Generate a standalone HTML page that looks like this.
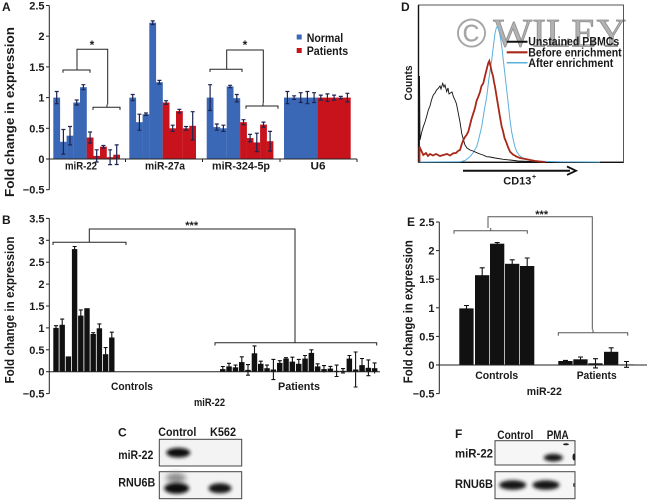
<!DOCTYPE html>
<html><head><meta charset="utf-8"><style>
html,body{margin:0;padding:0;background:#fff;}
svg{display:block;}
text{font-family:"Liberation Sans",Arial,sans-serif;fill:#1a1a1a;}
.b{font-weight:bold;}
</style></head><body>
<svg width="647" height="500" viewBox="0 0 647 500" xmlns="http://www.w3.org/2000/svg">
<defs>
<filter id="bl" x="-50%" y="-50%" width="200%" height="200%"><feGaussianBlur stdDeviation="1.8"/></filter>
<filter id="bl2" x="-50%" y="-50%" width="200%" height="200%"><feGaussianBlur stdDeviation="3"/></filter>
</defs>
<rect width="647" height="500" fill="#fff"/>

<!-- ============ PANEL A ============ -->
<text x="2" y="11" class="b" font-size="12">A</text>
<text transform="translate(14,112) rotate(-90)" text-anchor="middle" font-size="12.5" class="b" textLength="170" lengthAdjust="spacingAndGlyphs">Fold change in expression</text>
<g stroke="#222" stroke-width="1">
<line x1="49.3" y1="5.5" x2="49.3" y2="189.7"/>
<line x1="46" y1="5.5" x2="49.3" y2="5.5"/><line x1="46" y1="36.2" x2="49.3" y2="36.2"/><line x1="46" y1="66.9" x2="49.3" y2="66.9"/><line x1="46" y1="97.6" x2="49.3" y2="97.6"/><line x1="46" y1="128.3" x2="49.3" y2="128.3"/><line x1="46" y1="159" x2="49.3" y2="159"/><line x1="46" y1="189.7" x2="49.3" y2="189.7"/>
</g>
<g font-size="11" class="b" text-anchor="end">
<text x="44.5" y="9.5">2.5</text><text x="44.5" y="40.2">2</text><text x="44.5" y="70.9">1.5</text><text x="44.5" y="101.6">1</text><text x="44.5" y="132.3">0.5</text><text x="44.5" y="163">0</text><text x="44.5" y="193.7">−0.5</text>
</g>
<!-- bars A -->
<g fill="#3a68b6">
<rect x="53.3" y="97.6" width="6.8" height="61.4"/><rect x="60" y="141.8" width="6.8" height="17.2"/><rect x="66.6" y="135.7" width="6.8" height="23.3"/><rect x="73.3" y="102.5" width="6.8" height="56.5"/><rect x="80" y="87.2" width="6.8" height="71.8"/>
<rect x="129.3" y="97.6" width="6.8" height="61.4"/><rect x="136" y="122.2" width="6.8" height="36.8"/><rect x="142.6" y="114.2" width="6.8" height="44.8"/><rect x="149.3" y="22.7" width="6.8" height="136.3"/><rect x="156" y="82.2" width="6.8" height="76.8"/>
<rect x="206.7" y="97.6" width="6.8" height="61.4"/><rect x="213.4" y="127.1" width="6.8" height="31.9"/><rect x="220" y="128.3" width="6.8" height="30.7"/><rect x="226.7" y="86.5" width="6.8" height="72.5"/><rect x="233.4" y="98.2" width="6.8" height="60.8"/>
<rect x="284" y="97.6" width="33.4" height="61.4"/>
</g>
<g fill="#c8121c">
<rect x="86.7" y="137.5" width="6.8" height="21.5"/><rect x="93.3" y="155.9" width="6.8" height="3.1"/><rect x="100" y="146.7" width="6.8" height="12.3"/><rect x="106.7" y="157.2" width="6.8" height="1.8"/><rect x="113.3" y="154.7" width="6.7" height="4.3"/>
<rect x="162.7" y="102.5" width="6.8" height="56.5"/><rect x="169.3" y="128.3" width="6.8" height="30.7"/><rect x="176" y="111.1" width="6.8" height="47.9"/><rect x="182.7" y="128.3" width="6.8" height="30.7"/><rect x="189.3" y="125.8" width="6.7" height="33.2"/>
<rect x="240.1" y="122.2" width="6.8" height="36.8"/><rect x="246.7" y="138.1" width="6.8" height="20.9"/><rect x="253.4" y="142.4" width="6.8" height="16.6"/><rect x="260.1" y="124.6" width="6.8" height="34.4"/><rect x="266.7" y="141.2" width="6.7" height="17.8"/>
<rect x="317.4" y="97.6" width="33.3" height="61.4"/>
</g>
<!-- error bars A -->
<g stroke="#1c2450" stroke-width="1.2" fill="none">
<path d="M56.7 91.5V103.7M54.7 91.5h4M54.7 103.7h4"/>
<path d="M63.4 129.5V154.1M61.4 129.5h4M61.4 154.1h4"/>
<path d="M70 126.5V144.9M68 126.5h4M68 144.9h4"/>
<path d="M76.7 100V105M74.7 100h4M74.7 105h4"/>
<path d="M83.4 84.7V89.7M81.4 84.7h4M81.4 89.7h4"/>
<path d="M90.1 132V143M88.1 132h4M88.1 143h4"/>
<path d="M96.7 149.8V162M94.7 149.8h4M94.7 162h4"/>
<path d="M103.4 145.5V147.9M101.4 145.5h4M101.4 147.9h4"/>
<path d="M110.1 149.8V164.6M108.1 149.8h4M108.1 164.6h4"/>
<path d="M116.7 144.9V164.5M114.7 144.9h4M114.7 164.5h4"/>
<path d="M132.7 94.5V100.7M130.7 94.5h4M130.7 100.7h4"/>
<path d="M139.4 114.2V130.2M137.4 114.2h4M137.4 130.2h4"/>
<path d="M146 113V115.4M144 113h4M144 115.4h4"/>
<path d="M152.7 20.9V24.5M150.7 20.9h4M150.7 24.5h4"/>
<path d="M159.4 80.4V84M157.4 80.4h4M157.4 84h4"/>
<path d="M166.1 100.7V104.3M164.1 100.7h4M164.1 104.3h4"/>
<path d="M172.7 125.2V131.4M170.7 125.2h4M170.7 131.4h4"/>
<path d="M179.4 109.3V112.9M177.4 109.3h4M177.4 112.9h4"/>
<path d="M186.1 126.5V130.1M184.1 126.5h4M184.1 130.1h4"/>
<path d="M192.7 111.7V139.9M190.7 111.7h4M190.7 139.9h4"/>
<path d="M210.1 84.7V110.5M208.1 84.7h4M208.1 110.5h4"/>
<path d="M216.8 124V130.2M214.8 124h4M214.8 130.2h4"/>
<path d="M223.4 125.2V131.4M221.4 125.2h4M221.4 131.4h4"/>
<path d="M230.1 85.3V87.7M228.1 85.3h4M228.1 87.7h4"/>
<path d="M236.8 94.5V101.9M234.8 94.5h4M234.8 101.9h4"/>
<path d="M243.5 119.7V124.7M241.5 119.7h4M241.5 124.7h4"/>
<path d="M250.1 134.4V141.8M248.1 134.4h4M248.1 141.8h4"/>
<path d="M256.8 133.2V151.6M254.8 133.2h4M254.8 151.6h4"/>
<path d="M263.5 122.1V127.1M261.5 122.1h4M261.5 127.1h4"/>
<path d="M270.1 131.4V151M268.1 131.4h4M268.1 151h4"/>
<path d="M287.4 91.5V103.7M285.4 91.5h4M285.4 103.7h4"/>
<path d="M294.1 95.8V99.4M292.1 95.8h4M292.1 99.4h4"/>
<path d="M300.7 92.7V102.5M298.7 92.7h4M298.7 102.5h4"/>
<path d="M307.4 91.5V103.7M305.4 91.5h4M305.4 103.7h4"/>
<path d="M314.1 92.7V102.5M312.1 92.7h4M312.1 102.5h4"/>
<path d="M320.8 95.1V100.1M318.8 95.1h4M318.8 100.1h4"/>
<path d="M327.4 93.9V101.3M325.4 93.9h4M325.4 101.3h4"/>
<path d="M334.1 95.1V100.1M332.1 95.1h4M332.1 100.1h4"/>
<path d="M340.8 96.4V98.8M338.8 96.4h4M338.8 98.8h4"/>
<path d="M347.4 93.3V101.9M345.4 93.3h4M345.4 101.9h4"/>
</g>
<g stroke="#222" stroke-width="1" fill="none">
<line x1="49.3" y1="159" x2="357" y2="159"/>
<path d="M125.5 159v3M202.5 159v3M280 159v3M357 159v3"/>
<!-- brackets A -->
<path d="M63 72.7V70H90V72.7M77 70V67.7"/>
<path d="M93 110V107.3H120V110M107 107.3V104.5"/>
<path d="M77 67.7V49.3H107.7V104.5"/>
<path d="M210 72V69.3H242V72M226.7 69.3V67"/>
<path d="M246 108.7V106H278V108.7M263 106V103.3"/>
<path d="M226.7 67V50H263.3V103.3"/>
</g>
<text x="92" y="49" text-anchor="middle" font-size="12" class="b">*</text>
<text x="245" y="49" text-anchor="middle" font-size="12" class="b">*</text>
<g font-size="11" class="b" text-anchor="middle">
<text x="81" y="169.5" textLength="32" lengthAdjust="spacingAndGlyphs">miR-22</text>
<text x="165" y="169.5" textLength="40" lengthAdjust="spacingAndGlyphs">miR-27a</text>
<text x="241" y="169.5" textLength="58" lengthAdjust="spacingAndGlyphs">miR-324-5p</text>
<text x="318" y="169.5" textLength="15" lengthAdjust="spacingAndGlyphs">U6</text>
</g>
<rect x="296.7" y="34.5" width="5" height="5" fill="#3a68b6"/>
<rect x="296.7" y="48" width="5" height="5" fill="#c8121c"/>
<text x="306.7" y="42" font-size="12" class="b" textLength="36.5" lengthAdjust="spacingAndGlyphs">Normal</text>
<text x="306.7" y="55" font-size="12" class="b" textLength="41.5" lengthAdjust="spacingAndGlyphs">Patients</text>

<!-- ============ PANEL B ============ -->
<text x="2" y="224" class="b" font-size="12">B</text>
<text transform="translate(14,310) rotate(-90)" text-anchor="middle" font-size="12.5" class="b" textLength="147" lengthAdjust="spacingAndGlyphs">Fold change in expression</text>
<g stroke="#222" stroke-width="1">
<line x1="49.3" y1="218.4" x2="49.3" y2="393.6"/>
<line x1="46" y1="218.4" x2="49.3" y2="218.4"/><line x1="46" y1="240.3" x2="49.3" y2="240.3"/><line x1="46" y1="262.2" x2="49.3" y2="262.2"/><line x1="46" y1="284.1" x2="49.3" y2="284.1"/><line x1="46" y1="306" x2="49.3" y2="306"/><line x1="46" y1="327.9" x2="49.3" y2="327.9"/><line x1="46" y1="349.8" x2="49.3" y2="349.8"/><line x1="46" y1="371.7" x2="49.3" y2="371.7"/><line x1="46" y1="393.6" x2="49.3" y2="393.6"/>
</g>
<g font-size="11" class="b" text-anchor="end">
<text x="44.5" y="222.4">3.5</text><text x="44.5" y="244.3">3</text><text x="44.5" y="266.2">2.5</text><text x="44.5" y="288.1">2</text><text x="44.5" y="310">1.5</text><text x="44.5" y="331.9">1</text><text x="44.5" y="353.8">0.5</text><text x="44.5" y="375.7">0</text><text x="44.5" y="397.6">−0.5</text>
</g>
<g fill="#111">
<rect x="53.3" y="327.9" width="5.4" height="43.8"/><rect x="59.5" y="324.8" width="5.4" height="46.9"/><rect x="65.7" y="356.4" width="5.4" height="15.3"/><rect x="71.9" y="249.1" width="5.4" height="122.6"/><rect x="78.1" y="315.6" width="5.4" height="56.1"/><rect x="84.3" y="308.2" width="5.4" height="63.5"/><rect x="90.5" y="334" width="5.4" height="37.7"/><rect x="96.7" y="328.3" width="5.4" height="43.4"/><rect x="102.9" y="354.2" width="5.4" height="17.5"/><rect x="109.1" y="337.5" width="5.4" height="34.2"/>
<rect x="220" y="369.1" width="5.5" height="2.6"/><rect x="226.3" y="366.4" width="5.5" height="5.3"/><rect x="232.7" y="367.3" width="5.5" height="4.4"/><rect x="239" y="362.1" width="5.5" height="9.6"/><rect x="245.3" y="369.9" width="5.5" height="1.8"/><rect x="251.7" y="353.3" width="5.5" height="18.4"/><rect x="258" y="363.8" width="5.5" height="7.9"/><rect x="264.3" y="368.2" width="5.5" height="3.5"/><rect x="270.6" y="369.5" width="5.5" height="2.2"/><rect x="277" y="362.9" width="5.5" height="8.8"/><rect x="283.3" y="358.6" width="5.5" height="13.1"/><rect x="289.6" y="361.6" width="5.5" height="10.1"/><rect x="296" y="363.8" width="5.5" height="7.9"/><rect x="302.3" y="358.6" width="5.5" height="13.1"/><rect x="308.6" y="352.9" width="5.5" height="18.8"/><rect x="314.9" y="366.4" width="5.5" height="5.3"/><rect x="321.3" y="369.1" width="5.5" height="2.6"/><rect x="327.6" y="368.6" width="5.5" height="3.1"/><rect x="333.9" y="370.8" width="5.5" height="0.9"/><rect x="340.3" y="370.8" width="5.5" height="0.9"/><rect x="346.6" y="358.6" width="5.5" height="13.1"/><rect x="352.9" y="369.5" width="5.5" height="2.2"/><rect x="359.3" y="365.1" width="5.5" height="6.6"/><rect x="365.6" y="367.8" width="5.5" height="3.9"/><rect x="371.9" y="368.2" width="5.5" height="3.5"/>
</g>
<g stroke="#111" stroke-width="1.1" fill="none">
<path d="M56 325.7V330.1M54 325.7h4"/>
<path d="M62.2 319.1V330.5M60.2 319.1h4"/>
<path d="M74.6 246.5V251.7M72.6 246.5h4"/>
<path d="M80.8 309.9V321.3M78.8 309.9h4"/>
<path d="M93.2 332.7V335.3M91.2 332.7h4"/>
<path d="M99.4 323.9V332.7M97.4 323.9h4"/>
<path d="M105.6 347.6V360.8M103.6 347.6h4"/>
<path d="M111.8 332.2V342.8M109.8 332.2h4"/>
<path d="M222.8 366.5V371.7M220.8 366.5h4"/>
<path d="M229 363.3V369.5M227 363.3h4"/>
<path d="M235.5 365.1V369.5M233.5 365.1h4"/>
<path d="M241.8 356.8V367.4M239.8 356.8h4"/>
<path d="M248 364.6V375.2M246 364.6h4M246 375.2h4"/>
<path d="M254.5 345.9V360.7M252.5 345.9h4"/>
<path d="M260.8 361.2V366.4M258.8 361.2h4"/>
<path d="M267 365.1V371.3M265 365.1h4"/>
<path d="M273.4 359.4V379.6M271.4 359.4h4M271.4 379.6h4"/>
<path d="M279.8 360.7V365.1M277.8 360.7h4"/>
<path d="M286 357.7V359.5M284 357.7h4"/>
<path d="M292.4 357.2V366M290.4 357.2h4"/>
<path d="M298.8 359.4V368.2M296.8 359.4h4"/>
<path d="M305 355.5V361.7M303 355.5h4"/>
<path d="M311.4 349.8V356M309.4 349.8h4"/>
<path d="M317.6 363.8V369M315.6 363.8h4"/>
<path d="M324 365.6V372.6M322 365.6h4"/>
<path d="M330.4 366.4V370.8M328.4 366.4h4"/>
<path d="M336.6 365.1V376.5M334.6 365.1h4M334.6 376.5h4"/>
<path d="M343 368.6V373M341 368.6h4M341 373h4"/>
<path d="M349.4 355.5V361.7M347.4 355.5h4"/>
<path d="M355.6 352V387M353.6 352h4M353.6 387h4"/>
<path d="M362 358.5V371.7M360 358.5h4"/>
<path d="M368.4 359.9V375.7M366.4 359.9h4M366.4 375.7h4"/>
<path d="M374.6 362.9V373.5M372.6 362.9h4"/>
</g>
<g stroke="#222" stroke-width="1" fill="none">
<line x1="49.3" y1="371.7" x2="380" y2="371.7"/>
<path d="M53 245V242.3H126V245M89.3 242.3V239"/>
<path d="M89.3 239V229H295V339.5"/>
<path d="M215 345.5V342.7H376.7V345.5M295 342.7V339.5"/>
</g>
<text x="191.7" y="229" text-anchor="middle" font-size="11" class="b">***</text>
<g font-size="11" class="b" text-anchor="middle">
<text x="132" y="390" textLength="42" lengthAdjust="spacingAndGlyphs">Controls</text>
<text x="299" y="390" textLength="42" lengthAdjust="spacingAndGlyphs">Patients</text>
<text x="209.5" y="406" textLength="31" lengthAdjust="spacingAndGlyphs">miR-22</text>
</g>

<!-- ============ PANEL D ============ -->
<text x="401" y="11" class="b" font-size="12">D</text>
<text transform="translate(412,83) rotate(-90)" text-anchor="middle" font-size="11" class="b" textLength="35" lengthAdjust="spacingAndGlyphs">Counts</text>
<text x="471.5" y="47" text-anchor="middle" font-size="41" style="fill:#a5a5a5">©</text>
<text x="493.3" y="46.5" font-size="40" style="fill:#b2b2b2;font-family:'Liberation Serif',serif" stroke="#8e8e8e" stroke-width="0.8" textLength="133" lengthAdjust="spacingAndGlyphs">WILEY</text>
<rect x="418.5" y="5" width="205" height="157.3" fill="none" stroke="#444" stroke-width="0.9"/>
<line x1="418.5" y1="5" x2="418.5" y2="162.3" stroke="#111" stroke-width="1.4"/>
<line x1="418.5" y1="162.3" x2="623.5" y2="162.3" stroke="#111" stroke-width="1.4"/>
<polyline fill="none" stroke="#5ab0dc" stroke-width="1" points="419,162 460,161.8 465,160.5 470,156.7 473,153 476.7,146.7 479,138 481.7,126.7 484,112 486.7,96.7 489,78 491.7,60 493.5,45 495,33.3 496.3,28 497.3,26.7 498.5,29 500,35 501.7,46 503.3,60 505,75 506.7,90 508.5,106 510,120 511.5,131 513.3,140 515,147 516.7,151.7 519,155 521.7,157.3 525,159 530,160 540,161.2 560,161.8 600,162"/>
<polyline fill="none" stroke="#111" stroke-width="0.9" points="419.5,162 419.5,76 420,140 421.5,133 423.3,126.7 425,122 426.5,117 428.3,110 430,106 431.5,100 433.3,95 435,93 436.5,90 438.3,88.3 440,86 441,89 442.7,83.3 444,87 445,85 446.7,91.7 448,88 449,94 450,93.3 452,92 453.5,97 455,100 456.5,104 458.3,113.3 460,122 461.7,133.3 463.5,140 465,145 467,148 470,150 473,151 476.7,152.7 480,154 483,155 486.7,156.7 490,157 495,158 503.3,159.3 510,160 518,161 530,161.5 540,162"/>
<polyline fill="none" stroke="#a8281a" stroke-width="1.8" points="419.5,162 419.5,146.7 421,150 423.3,155 426,153 428,156 430,154 433,155.5 436,154 440,156 443.3,155 447,154 450,155.5 453.3,153.3 456,153 458,151 460,150 461.5,145 463.3,140 465,137 466.5,135 468.3,131.7 470,125 471.5,119 473.3,113.3 475,108 476.5,101 478.3,96.7 480,92 481.5,86 483.3,83.3 485,76 486,72 487.3,66.7 488.3,63 489.3,61 490.5,66 491.7,71.7 493,76 494,82 495,86.7 496.5,96 498.3,106.7 500,117 501.7,126.7 503,131 504.5,138 506.7,143.3 508,147 510,151.7 513,154.5 516.7,156.7 520,158 526.7,159.3 535,161 545,162"/>
<line x1="506.7" y1="41.7" x2="527.5" y2="41.7" stroke="#111" stroke-width="2"/>
<line x1="506.7" y1="52.3" x2="527.5" y2="52.3" stroke="#a8281a" stroke-width="2.2"/>
<line x1="506.7" y1="62.8" x2="527.5" y2="62.8" stroke="#5ab0dc" stroke-width="1.5"/>
<g font-size="11.5" class="b">
<text x="528.3" y="45.7" textLength="91" lengthAdjust="spacingAndGlyphs">Unstained PBMCs</text>
<text x="528.3" y="56.3" textLength="93.4" lengthAdjust="spacingAndGlyphs">Before enrichment</text>
<text x="528.3" y="66.8" textLength="85" lengthAdjust="spacingAndGlyphs">After enrichment</text>
</g>
<line x1="463" y1="170.7" x2="570" y2="170.7" stroke="#111" stroke-width="2"/>
<path d="M567 166.5 L576 170.7 L567 174.9" fill="none" stroke="#111" stroke-width="1.8"/>
<text x="503.3" y="184.5" font-size="11" class="b" textLength="28" lengthAdjust="spacingAndGlyphs">CD13</text>
<text x="532" y="179" font-size="7" class="b">+</text>

<!-- ============ PANEL E ============ -->
<text x="407" y="226" class="b" font-size="12">E</text>
<text transform="translate(412.5,311.7) rotate(-90)" text-anchor="middle" font-size="12.5" class="b" textLength="143" lengthAdjust="spacingAndGlyphs">Fold change in expression</text>
<g stroke="#222" stroke-width="1">
<line x1="439.3" y1="222" x2="439.3" y2="393.6"/>
<line x1="436" y1="222" x2="439.3" y2="222"/><line x1="436" y1="250.6" x2="439.3" y2="250.6"/><line x1="436" y1="279.2" x2="439.3" y2="279.2"/><line x1="436" y1="307.8" x2="439.3" y2="307.8"/><line x1="436" y1="336.4" x2="439.3" y2="336.4"/><line x1="436" y1="365" x2="439.3" y2="365"/><line x1="436" y1="393.6" x2="439.3" y2="393.6"/>
</g>
<g font-size="11" class="b" text-anchor="end">
<text x="434.5" y="226">2.5</text><text x="434.5" y="254.6">2</text><text x="434.5" y="283.2">1.5</text><text x="434.5" y="311.8">1</text><text x="434.5" y="340.4">0.5</text><text x="434.5" y="369">0</text><text x="434.5" y="397.6">−0.5</text>
</g>
<g fill="#111">
<rect x="459.3" y="308.4" width="14.3" height="56.6"/><rect x="475" y="275.2" width="14.3" height="89.8"/><rect x="490" y="243.7" width="14.3" height="121.3"/><rect x="505" y="263.8" width="14.3" height="101.2"/><rect x="520" y="266" width="14.3" height="99"/>
<rect x="558.3" y="361" width="14.3" height="4"/><rect x="573.3" y="359.3" width="14.3" height="5.7"/><rect x="588.3" y="363.3" width="14.3" height="1.7"/><rect x="604" y="351.8" width="14.3" height="13.2"/><rect x="619.3" y="364.4" width="14.3" height="0.6"/>
</g>
<g stroke="#111" stroke-width="1.1" fill="none">
<path d="M466.5 305.5V311.3M464 305.5h5"/>
<path d="M482.2 267.8V282.6M479.7 267.8h5"/>
<path d="M497.2 242.6V244.8M494.7 242.6h5"/>
<path d="M512.2 259.8V267.8M509.7 259.8h5"/>
<path d="M527.2 258V274M524.7 258h5"/>
<path d="M565.5 360.4V361.6M563 360.4h5"/>
<path d="M580.5 357V361.6M578 357h5"/>
<path d="M595.5 358.7V367.9M593 358.7h5M593 367.9h5"/>
<path d="M611.2 347.8V355.8M608.7 347.8h5"/>
<path d="M626.5 361.5V367.3M624 361.5h5M624 367.3h5"/>
</g>
<line x1="439.3" y1="365" x2="647" y2="365" stroke="#222" stroke-width="1"/>
<g stroke="#555" stroke-width="1" fill="none">
<path d="M454 233.7V230.7H527.3V233.7M490.7 230.7V228"/>
<path d="M488 228V216.7H592.3V329.5"/>
<path d="M558.3 335.7V332.7H627.7V335.7M593 332.7V329.5"/>
</g>
<text x="541.7" y="218" text-anchor="middle" font-size="11" class="b">***</text>
<g font-size="11" class="b" text-anchor="middle">
<text x="496.7" y="379" textLength="43" lengthAdjust="spacingAndGlyphs">Controls</text>
<text x="596.7" y="379" textLength="40" lengthAdjust="spacingAndGlyphs">Patients</text>
<text x="544.3" y="395" textLength="35" lengthAdjust="spacingAndGlyphs">miR-22</text>
</g>

<!-- ============ PANEL C ============ -->
<text x="118" y="436.5" class="b" font-size="12">C</text>
<g font-size="11.5" class="b">
<text x="158.3" y="436" textLength="38" lengthAdjust="spacingAndGlyphs">Control</text>
<text x="210" y="436" textLength="26" lengthAdjust="spacingAndGlyphs">K562</text>
<text x="118.3" y="459" textLength="35" lengthAdjust="spacingAndGlyphs">miR-22</text>
<text x="118.3" y="486.7" textLength="37" lengthAdjust="spacingAndGlyphs">RNU6B</text>
</g>
<rect x="159.3" y="439.3" width="82.4" height="26.7" fill="#f3f3f3" stroke="#444" stroke-width="1"/>
<rect x="159.3" y="471.7" width="82.4" height="27" fill="#f3f3f3" stroke="#444" stroke-width="1"/>
<ellipse cx="178.3" cy="452.7" rx="12" ry="4.8" fill="#111" filter="url(#bl)"/>
<ellipse cx="176" cy="478" rx="10" ry="5" fill="#888" filter="url(#bl2)"/>
<ellipse cx="176.7" cy="488.3" rx="12.5" ry="5.5" fill="#111" filter="url(#bl)"/>
<ellipse cx="220" cy="488.3" rx="11.5" ry="5" fill="#151515" filter="url(#bl)"/>

<!-- ============ PANEL F ============ -->
<text x="455" y="438" class="b" font-size="12">F</text>
<g font-size="11.5" class="b">
<text x="497.3" y="439" textLength="36" lengthAdjust="spacingAndGlyphs">Control</text>
<text x="546.7" y="439" textLength="22" lengthAdjust="spacingAndGlyphs">PMA</text>
<text x="455" y="457.5" textLength="38" lengthAdjust="spacingAndGlyphs">miR-22</text>
<text x="455" y="488" textLength="38" lengthAdjust="spacingAndGlyphs">RNU6B</text>
</g>
<rect x="495" y="440.7" width="80" height="24.3" fill="#f6f6f6" stroke="#444" stroke-width="1"/>
<rect x="495" y="471.7" width="80" height="27" fill="#f6f6f6" stroke="#444" stroke-width="1"/>
<ellipse cx="553.3" cy="457.7" rx="9.5" ry="3.8" fill="#151515" filter="url(#bl)"/>
<ellipse cx="566" cy="444.3" rx="3" ry="1" fill="#222"/>
<ellipse cx="574" cy="457" rx="1.5" ry="3.5" fill="#222"/>
<ellipse cx="512.7" cy="485" rx="13.5" ry="4.8" fill="#151515" filter="url(#bl)"/>
<ellipse cx="546" cy="485" rx="13.5" ry="4.8" fill="#151515" filter="url(#bl)"/>
<ellipse cx="574" cy="485" rx="1" ry="2" fill="#555"/>
</svg>
</body></html>
